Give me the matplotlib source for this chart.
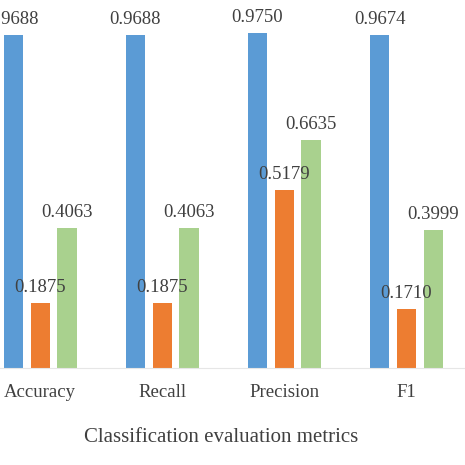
import matplotlib
matplotlib.use("Agg")
import matplotlib.pyplot as plt
import numpy as np

categories = ["Accuracy", "Recall", "Precision", "F1"]
series_a = [0.9688, 0.9688, 0.9750, 0.9674]
series_b = [0.1875, 0.1875, 0.5179, 0.1710]
series_c = [0.4063, 0.4063, 0.6635, 0.3999]
colors = ["#5B9BD5", "#ED7D31", "#A9D18E"]

plt.rcParams['font.family'] = ['Liberation Serif', 'DejaVu Serif']
fig = plt.figure(figsize=(4.65, 4.65), dpi=100)
ax = fig.add_axes([0, 0.209, 1, 0.791])
x = np.arange(len(categories))
w = 0.16
for off, vals, c in zip([-0.22, 0, 0.22], [series_a, series_b, series_c], colors):
    ax.bar(x + off, vals, w, color=c)
    for xi, v in zip(x + off, vals):
        ax.text(xi, v + 0.02, f"{v:.4f}", ha="center", va="bottom", fontsize=13.5, color="#404040")
ax.set_xlim(-0.33, 3.48)
ax.set_ylim(0, 1.07)
ax.set_yticks([])
ax.set_xticks(x)
ax.set_xticklabels(categories, fontsize=13.5, color="#404040")
ax.tick_params(axis='x', length=0, pad=12)
for s in ["top", "right", "left"]:
    ax.spines[s].set_visible(False)
ax.spines["bottom"].set_color("#e6e6e6")
fig.text(0.475, 0.05, "Classification evaluation metrics", ha="center", fontsize=15, color="#404040")
fig.savefig("out.png", dpi=100)
